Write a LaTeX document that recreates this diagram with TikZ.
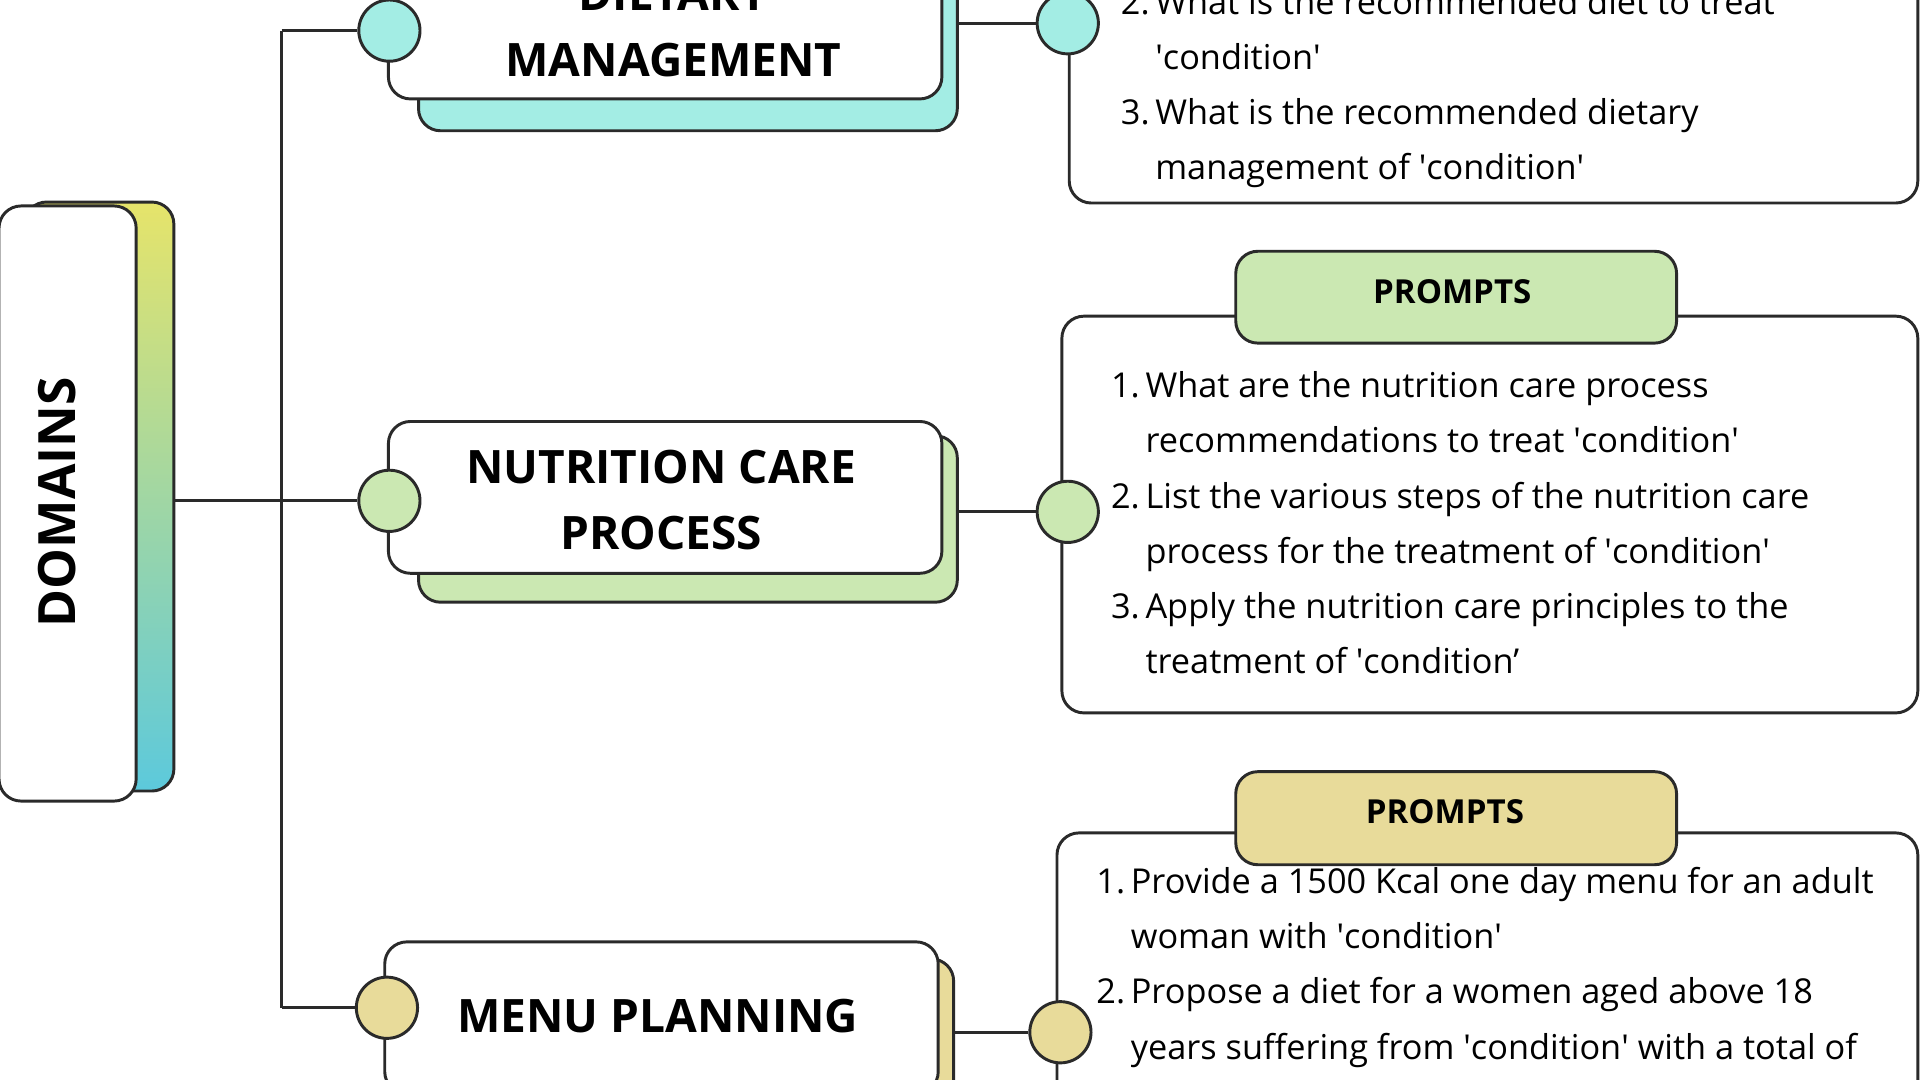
\documentclass[tikz,border=0pt]{standalone}
\usepackage{fontspec}
\setmainfont{Open Sans}
\usetikzlibrary{positioning}
\definecolor{cy}{HTML}{A3EDE4}
\definecolor{gr}{HTML}{CBE8B2}
\definecolor{ye}{HTML}{E8DB9A}
\definecolor{ln}{HTML}{2A2A2A}
\definecolor{gtop}{HTML}{E6E46A}
\definecolor{gmid}{HTML}{A8DC96}
\definecolor{gbot}{HTML}{5CC9DC}
\tikzset{
 wbox/.style={draw=ln,line width=1.2pt,fill=white,rounded corners=9pt},
 sbox/.style={draw=ln,line width=1.2pt,rounded corners=9pt},
 dot/.style={circle,draw=ln,line width=1.2pt,minimum size=25pt,inner sep=0pt},
 conn/.style={draw=ln,line width=1.2pt},
 ttl/.style={font=\fontsize{18.8}{27}\selectfont\bfseries,align=center},
 hdr/.style={font=\fontsize{13.5}{16}\selectfont\bfseries},
 lst/.style={font=\fontsize{14}{22.5}\selectfont,anchor=north west,inner sep=0pt}
}
\newcommand{\itm}[2]{#1.&#2}
\newcommand{\q}{\textquotesingle}
\begin{document}
\begin{tikzpicture}[x=0.5pt,y=-0.5pt]
\useasboundingbox[fill=white] (0,0) rectangle (1568,882);
% DOMAINS
\shade[top color=gtop,middle color=gmid,bottom color=gbot,draw=ln,line width=1.2pt,rounded corners=9pt] (20,165) rectangle (142,646);
\node[wbox,minimum width=56pt,minimum height=243pt,anchor=north west] (dom) at (-2,167) {};
\node[rotate=90,font=\fontsize{21}{24}\selectfont\bfseries] (domt) at (47,410) {DOMAINS};
% trunk
\coordinate (j) at (230,409);
\coordinate (jt) at (230,25);
\coordinate (jb) at (230,823);
\draw[conn] (142,409) -- (j);
\draw[conn] (jt) -- (jb);
% dietary
\node[sbox,fill=cy,minimum width=220pt,minimum height=64pt,anchor=south east] (dms) at (783,108) {};
\node[wbox,minimum width=226pt,minimum height=64pt,anchor=south west] (dm) at (316,82) {};
\node[ttl] (dmt) at (550,22) {DIETARY\\MANAGEMENT};
\node[dot,fill=cy] (c1) at (318,25) {};
\draw[conn] (jt) -- (c1);
% NCP
\node[sbox,fill=gr,minimum width=220pt,minimum height=68pt,anchor=south east] (ns) at (783,493) {};
\node[wbox,minimum width=226pt,minimum height=62pt,anchor=north west] (n) at (316,343) {};
\node[ttl] (nt) at (540,408) {NUTRITION CARE\\PROCESS};
\node[dot,fill=gr] (c2) at (318,409) {};
\draw[conn] (j) -- (c2);
% Menu
\node[sbox,fill=ye,minimum width=220pt,minimum height=60pt,anchor=north east] (ms) at (780,782) {};
\node[wbox,minimum width=226pt,minimum height=62pt,anchor=north west] (m) at (313,768) {};
\node[ttl] (mt) at (537,830) {MENU PLANNING};
\node[dot,fill=ye] (c3) at (316,823) {};
\draw[conn] (jb) -- (c3);
% prompt boxes
\node[wbox,minimum width=346.5pt,minimum height=110pt,anchor=south west] (p1) at (872,167) {};
\node[wbox,minimum width=349.5pt,minimum height=162pt,anchor=north west] (p2) at (866,257) {};
\node[wbox,minimum width=351.5pt,minimum height=110pt,anchor=north west] (p3) at (862,679) {};
\node[wbox,fill=gr,minimum width=180pt,minimum height=37.5pt,anchor=north west] (h2) at (1008,204) {};
\node[hdr] (h2t) at (1186,238) {PROMPTS};
\node[wbox,fill=ye,minimum width=180pt,minimum height=38pt,anchor=north west] (h3) at (1008,629) {};
\node[hdr] (h3t) at (1180,663) {PROMPTS};
% connectors
\node[dot,fill=cy] (d1) at (872,19) {};
\node[dot,fill=gr] (d2) at (872,418) {};
\node[dot,fill=ye] (d3) at (866,843) {};
\draw[conn] (783,19) -- (d1);
\draw[conn] (783,418) -- (d2);
\draw[conn] (780,843) -- (d3);
% lists
\node[lst] (l1) at (915,-20) {\begin{tabular}{@{}r@{\,}l@{}}
\itm{2}{What is the recommended diet to treat}\\ &\q condition\q\\
\itm{3}{What is the recommended dietary}\\ &management of \q condition\q\end{tabular}};
\node[lst] (l2) at (907,293) {\begin{tabular}{@{}r@{\,}l@{}}
\itm{1}{What are the nutrition care process}\\ &recommendations to treat \q condition\q\\
\itm{2}{List the various steps of the nutrition care}\\ &process for the treatment of \q condition\q\\
\itm{3}{Apply the nutrition care principles to the}\\ &treatment of \q condition’\end{tabular}};
\node[lst] (l3) at (895,698) {\begin{tabular}{@{}r@{\,}l@{}}
\itm{1}{Provide a 1500 Kcal one day menu for an adult}\\ &woman with \q condition\q\\
\itm{2}{Propose a diet for a women aged above 18}\\ &years suffering from \q condition\q{} with a total of\end{tabular}};
\end{tikzpicture}
\end{document}
